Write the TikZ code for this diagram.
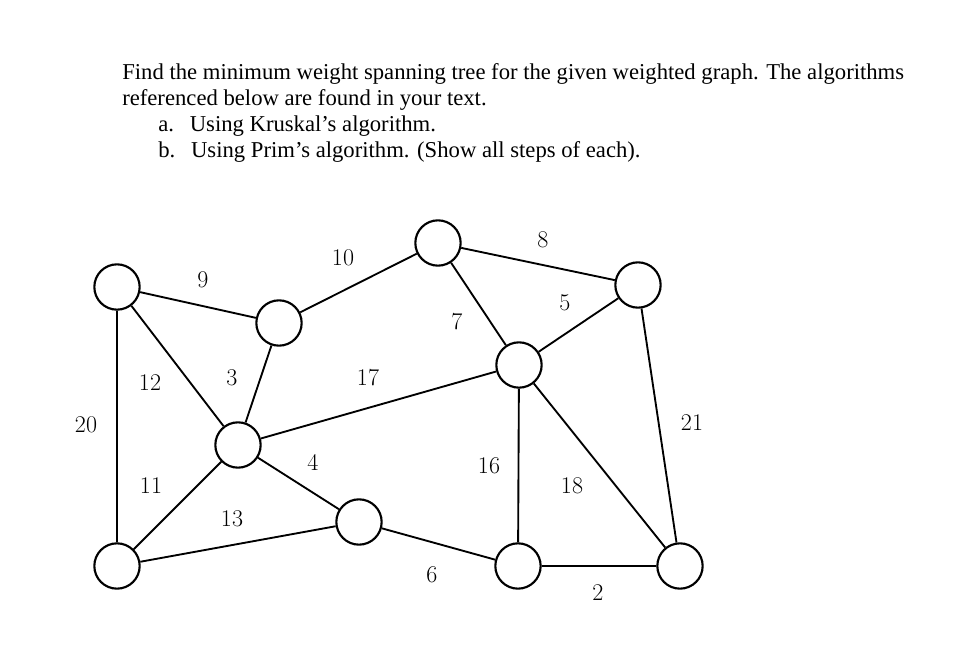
\documentclass[tikz,border=0pt]{standalone}
\usepackage{fontspec}
\newfontfamily\tnr{Liberation Serif}
\begin{document}
\begin{tikzpicture}[x=0.75pt,y=-0.75pt,
  v/.style={circle,draw,line width=1.6pt,minimum size=34pt,inner sep=0pt,fill=white},
  e/.style={line width=1.4pt},
  w/.style={font=\fontsize{18}{20}\selectfont},
  t/.style={anchor=base west,inner sep=0pt,font=\tnr\fontsize{17}{18}\selectfont}]
\useasboundingbox (0,0) rectangle (965,652);
\node[t] (l1) at (122,80) {Find the minimum weight spanning tree for the given weighted graph. The algorithms};
\node[t] (l2) at (122,106) {referenced below are found in your text.};
\node[t] (l3) at (158,132) {a.\hspace{0.7em}Using Kruskal’s algorithm.};
\node[t] (l4) at (158,158) {b.\hspace{0.7em}Using Prim’s algorithm. (Show all steps of each).};
\coordinate (pA) at (117,287); \coordinate (pB) at (279,323);
\coordinate (pC) at (438,243); \coordinate (pD) at (638,285);
\coordinate (pE) at (519,365); \coordinate (pF) at (238,445);
\coordinate (pG) at (117,566); \coordinate (pH) at (359,522);
\coordinate (pI) at (518,566); \coordinate (pJ) at (680,566);
\foreach \n in {A,B,C,D,E,F,G,H,I,J} \node[v] (\n) at (p\n) {};
\draw[e] (A)--(B) (A)--(F) (A)--(G) (B)--(F) (B)--(C) (C)--(E) (C)--(D)
 (D)--(E) (D)--(J) (E)--(F) (E)--(I) (E)--(J) (F)--(G) (F)--(H) (G)--(H) (H)--(I) (I)--(J);
\node[w] (w9) at (203,280) {9};
\node[w] (w10) at (343,258) {10};
\node[w] (w8) at (543,240) {8};
\node[w] (w5) at (565,303) {5};
\node[w] (w7) at (457,322) {7};
\node[w] (w12) at (150,383) {12};
\node[w] (w3) at (232,378) {3};
\node[w] (w17) at (368,378) {17};
\node[w] (w20) at (86,425) {20};
\node[w] (w21) at (692,423) {21};
\node[w] (w4) at (313,462) {4};
\node[w] (w16) at (489,466) {16};
\node[w] (w18) at (572,486) {18};
\node[w] (w11) at (151,486) {11};
\node[w] (w13) at (232,519) {13};
\node[w] (w6) at (432,575) {6};
\node[w] (w2) at (598,593) {2};
\end{tikzpicture}
\end{document}
